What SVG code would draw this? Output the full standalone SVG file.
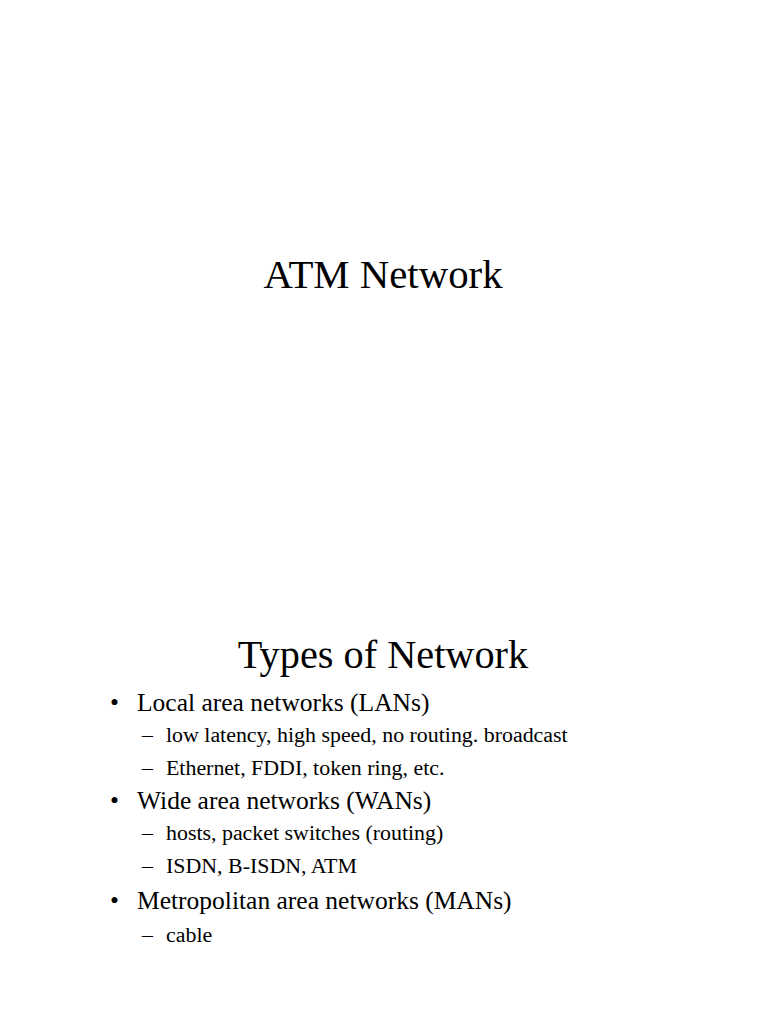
<svg xmlns="http://www.w3.org/2000/svg" width="768" height="1024" viewBox="0 0 768 1024">
<style>
text{font-family:"Liberation Serif","Times New Roman",serif;fill:#000}
.t1{font-size:40.8px}
.t2{font-size:40.3px}
.b{font-size:25.5px}
.s{font-size:21.9px}
</style>
<rect width="768" height="1024" fill="#fff"/>
<text class="t1" x="383" y="288" text-anchor="middle">ATM Network</text>
<text class="t2" x="383" y="668" text-anchor="middle">Types of Network</text>
<g id="list">
<text class="b" x="110" y="711">•</text><text class="b" x="137" y="711">Local area networks (LANs)</text>
<text class="s" x="142" y="742">–</text><text class="s" x="166" y="742">low latency, high speed, no routing. broadcast</text>
<text class="s" x="142" y="775">–</text><text class="s" x="166" y="775">Ethernet, FDDI, token ring, etc.</text>
<text class="b" x="110" y="809">•</text><text class="b" x="137" y="809">Wide area networks (WANs)</text>
<text class="s" x="142" y="840">–</text><text class="s" x="166" y="840">hosts, packet switches (routing)</text>
<text class="s" x="142" y="873">–</text><text class="s" x="166" y="873">ISDN, B-ISDN, ATM</text>
<text class="b" x="110" y="909">•</text><text class="b" x="137" y="909">Metropolitan area networks (MANs)</text>
<text class="s" x="142" y="942">–</text><text class="s" x="166" y="942">cable</text>
</g>
</svg>
